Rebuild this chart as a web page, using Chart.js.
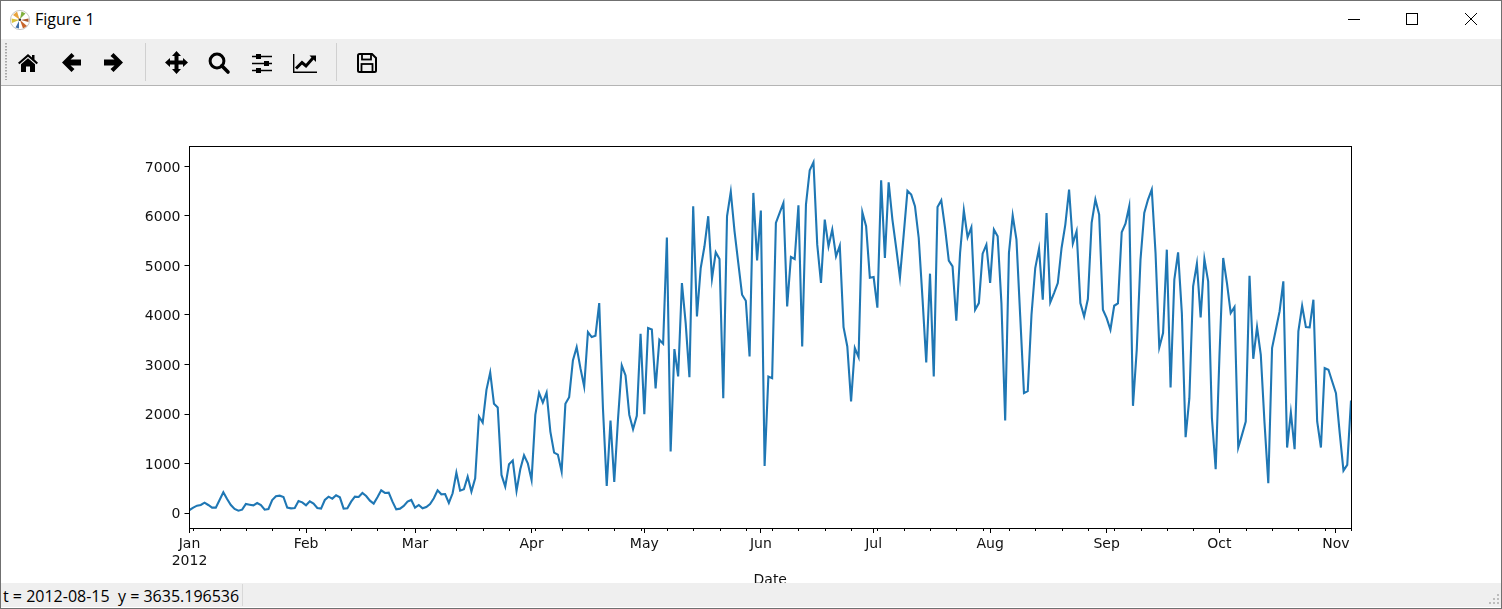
<!DOCTYPE html>
<html>
<head>
<meta charset="utf-8">
<title>Figure 1</title>
<script src="https://cdn.jsdelivr.net/npm/chart.js@4"></script>
<style>
    html, body { margin: 0; padding: 0; background: #fff; overflow: hidden; }
    #win { position: absolute; left: 0; top: 0; width: 1502px; height: 609px; overflow: hidden; font-family: "Open Sans", "Noto Sans", sans-serif; color: #000; }
    #chart { position: absolute; left: 0; top: 86px; }
    #titlebar { position: absolute; left: 35px; top: 8px; font-size: 16px; line-height: 22px; }
    #toolbar { position: absolute; left: 0; top: 39px; width: 1502px; height: 46px; background: #efefef; border-bottom: 1px solid #b4b4b4; }
    #status { position: absolute; left: 0; top: 583px; width: 1502px; height: 24px; background: #efefef; z-index: 2; }
    #status span { position: absolute; left: 3px; top: 1px; font-size: 16px; line-height: 24px; white-space: pre; }
    #frame { position: absolute; left: 0; top: 0; width: 1500px; height: 607px; border: 1px solid #707070; z-index: 3; pointer-events: none; }
    svg { position: absolute; overflow: visible; }
</style>
</head>
<body>
<div id="win">
    <canvas id="chart" width="1502" height="523"></canvas>

    <svg style="left:9px;top:9px" width="22" height="22" viewBox="0 0 22 22">
        <circle cx="11" cy="11" r="9.6" fill="#fff" stroke="#c4c4c4" stroke-width="1"/>
        <path d="M10.5 10.5 L4 6 L8 2.5 Z" fill="#e8a33d"/>
        <path d="M11 10 L12.5 2.5 L16.5 4.5 Z" fill="#7fae3c"/>
        <path d="M10 11 L2.5 9.5 L3 14 Z" fill="#d9c23a"/>
        <path d="M11 11 L18 17 L14 19.5 Z" fill="#c8642b"/>
        <path d="M10 12 L6.5 18.5 L10 19.5 Z" fill="#3f6fa8"/>
        <path d="M12 11 L19.5 9.5 L19.5 13 Z" fill="#a9572c"/>
        <circle cx="10.8" cy="10.8" r="1.3" fill="#333"/>
    </svg>
    <div id="titlebar">Figure 1</div>
    <svg style="left:1348px;top:19px" width="12" height="1"><rect width="12" height="1" fill="#000"/></svg>
    <svg style="left:1406px;top:13px" width="12" height="12"><rect x="0.5" y="0.5" width="11" height="11" fill="none" stroke="#000"/></svg>
    <svg style="left:1465px;top:13px" width="12" height="12"><path d="M0 0 L12 12 M12 0 L0 12" stroke="#000" stroke-width="1" fill="none"/></svg>

    <div id="toolbar">
        <svg style="left:5px;top:3px" width="3" height="38">
            <path d="M1 1 V38" stroke="#a8a8a8" stroke-width="2" stroke-dasharray="1.5 1.5"/>
        </svg>
        <!-- home -->
        <svg style="left:18px;top:15px" width="20" height="18" viewBox="0 0 20 18">
            <path d="M10 0 L14 3.4 V1 H16.5 V5.6 L20 8.8 L18.6 10.2 L10 2.8 L1.4 10.2 L0 8.8 Z" fill="#000"/>
            <path d="M3 10.2 L10 4.2 L17 10.2 V18 H12 V12.5 H8 V18 H3 Z" fill="#000"/>
        </svg>
        <!-- back -->
        <svg style="left:62px;top:14px" width="19" height="19" viewBox="0 0 19 19">
            <path d="M9.5 0 L12.5 3 L8.5 6.5 H19 V12.5 H8.5 L12.5 16 L9.5 19 L0 9.5 Z" fill="#000"/>
        </svg>
        <!-- forward -->
        <svg style="left:104px;top:14px" width="19" height="19" viewBox="0 0 19 19">
            <path d="M9.5 0 L6.5 3 L10.5 6.5 H0 V12.5 H10.5 L6.5 16 L9.5 19 L19 9.5 Z" fill="#000"/>
        </svg>
        <svg style="left:145px;top:4px" width="1" height="38"><rect width="1" height="38" fill="#d0d0d0"/></svg>
        <!-- move -->
        <svg style="left:165px;top:12px" width="23" height="23" viewBox="0 0 23 23">
            <path d="M11.5 0 L16 5 H13.5 V9.5 H18 V7 L23 11.5 L18 16 V13.5 H13.5 V18 H16 L11.5 23 L7 18 H9.5 V13.5 H5 V16 L0 11.5 L5 7 V9.5 H9.5 V5 H7 Z" fill="#000"/>
        </svg>
        <!-- zoom -->
        <svg style="left:208px;top:13px" width="22" height="22" viewBox="0 0 22 22">
            <circle cx="9" cy="9" r="6.9" fill="none" stroke="#000" stroke-width="3"/>
            <path d="M13.8 13.8 L20 20" stroke="#000" stroke-width="3.6" stroke-linecap="round"/>
        </svg>
        <!-- sliders -->
        <svg style="left:252px;top:15px" width="20" height="19" viewBox="0 0 20 19">
            <path d="M0 2.5 H20 M0 9.5 H20 M0 16.5 H20" stroke="#000" stroke-width="1.4"/>
            <rect x="4" y="0" width="5" height="5" fill="#000"/>
            <rect x="12" y="7" width="5" height="5" fill="#000"/>
            <rect x="4" y="14" width="5" height="5" fill="#000"/>
        </svg>
        <!-- line chart -->
        <svg style="left:293px;top:15px" width="24" height="19" viewBox="0 0 24 19">
            <path d="M0.7 0 V18.3 H24" fill="none" stroke="#000" stroke-width="1.4"/>
            <path d="M3 14.5 L9 8.5 L13 12 L20 4" fill="none" stroke="#000" stroke-width="3"/>
            <path d="M16.5 1.5 H23 V8 Z" fill="#000"/>
        </svg>
        <svg style="left:336px;top:4px" width="1" height="38"><rect width="1" height="38" fill="#d0d0d0"/></svg>
        <!-- save -->
        <svg style="left:357px;top:14px" width="20" height="20" viewBox="0 0 20 20">
            <path d="M1 2.5 Q1 1 2.5 1 H15 L19 5 V17.5 Q19 19 17.5 19 H2.5 Q1 19 1 17.5 Z" fill="none" stroke="#000" stroke-width="2"/>
            <rect x="5" y="1" width="9" height="5.5" fill="none" stroke="#000" stroke-width="1.8"/>
            <rect x="4.5" y="11" width="11" height="8" fill="none" stroke="#000" stroke-width="1.8"/>
        </svg>
    </div>

    <div id="status">
        <span>t = 2012-08-15  y = 3635.196536</span>
        <svg style="left:242px;top:1px" width="1" height="22"><rect width="1" height="22" fill="#d8d8d8"/></svg>
        <svg style="left:1488px;top:11px" width="11" height="11">
            <path d="M9 0h2v2h-2z M5 4h2v2h-2z M9 4h2v2h-2z M1 8h2v2h-2z M5 8h2v2h-2z M9 8h2v2h-2z" fill="#bdbdbd"/>
        </svg>
    </div>
    <div id="frame"></div>
</div>

<script>
// daily counts, Jan 1 to Nov 5 2012
const dailyValues = [
    60, 108, 148, 162, 209, 162, 108, 108, 263, 418,
    283, 162, 81, 47, 67, 182, 168, 155, 202, 162,
    67, 81, 263, 337, 350, 324, 108, 94, 101, 243,
    216, 155, 236, 189, 101, 88, 263, 330, 290, 357,
    317, 88, 94, 229, 330, 324, 405, 344, 249, 189,
    317, 458, 405, 411, 229, 74, 88, 142, 229, 263,
    108, 162, 94, 121, 182, 297, 458, 378, 384, 202,
    398, 816, 452, 479, 735, 432, 701, 1949, 1827, 2488,
    2839, 2205, 2131, 769, 533, 984, 1059, 445, 883, 1167,
    1005, 668, 1982, 2427, 2232, 2434, 1645, 1220, 1180, 836,
    2205, 2340, 3082, 3351, 2926, 2556, 3655, 3554, 3581, 4241,
    2100, 546, 1868, 627, 1900, 2980, 2778, 1982, 1692, 1962,
    3621, 1996, 3736, 3709, 2515, 3500, 3419, 5563, 1241, 3311,
    2758, 4646, 3837, 2744, 6197, 3972, 4949, 5388, 5995, 4734,
    5266, 5131, 2320, 5995, 6490, 5691, 5050, 4410, 4288, 3162,
    6466, 5104, 6109, 951, 2758, 2724, 5860, 6062, 6264, 4174,
    5172, 5131, 6217, 3365, 6231, 6925, 7087, 5421, 4646, 5927,
    5388, 5725, 5185, 5401, 3756, 3365, 2252, 3331, 3149, 6075,
    5792, 4754, 4767, 4147, 6723, 5152, 6682, 5927, 5354, 4760,
    5624, 6507, 6433, 6197, 5556, 4342, 3041, 4835, 2758, 6183,
    6318, 5758, 5098, 4983, 3884, 5253, 6116, 5570, 5772, 4107,
    4241, 5239, 5421, 4646, 5725, 5590, 4241, 1868, 5253, 6008,
    5522, 3972, 2421, 2461, 4005, 4949, 5340, 4309, 6062, 4255,
    4444, 4646, 5354, 5826, 6534, 5442, 5691, 4241, 3972, 4322,
    5860, 6332, 6028, 4107, 3938, 3702, 4187, 4235, 5671, 5846,
    6197, 2165, 3297, 5118, 6062, 6332, 6534, 5253, 3344, 3634,
    5320, 2535, 4713, 5266, 4039, 1531, 2320, 4579, 5037, 3951,
    5131, 4680, 1915, 883, 3162, 5152, 4646, 4039, 4160, 1322,
    1578, 1848, 4794, 3115, 3756, 3196, 1814, 600, 3331, 3702,
    4073, 4680, 1322, 2030, 1288, 3668, 4187, 3756, 3749, 4309,
    1848, 1322, 2926, 2893, 2657, 2421, 1612, 856, 971, 2272
];

// day offsets from Jan 1
const monthTicks = [0, 31, 60, 91, 121, 152, 182, 213, 244, 274, 305];
const monthLabels = [['Jan', '2012'], 'Feb', 'Mar', 'Apr', 'May', 'Jun', 'Jul', 'Aug', 'Sep', 'Oct', 'Nov'];
// Mondays
const weekTicks = [
    1, 8, 15, 22, 29, 36, 43, 50, 57, 64, 71, 78, 85, 92, 99, 106, 113, 120, 127, 134, 141, 148, 155,
    162, 169, 176, 183, 190, 197, 204, 211, 218, 225, 232, 239, 246, 253, 260, 267, 274, 281, 288, 295, 302, 309
];
const yTicks = [0, 1000, 2000, 3000, 4000, 5000, 6000, 7000];

const tickFont = { family: '"DejaVu Sans"', size: 14 };

// axes frame and the short weekly ticks
const framePlugin = {
    id: 'frame',
    afterDraw(chart) {
        const { ctx, chartArea: a, scales: { x } } = chart;
        ctx.save();
        ctx.strokeStyle = '#000';
        ctx.lineWidth = 1;
        ctx.strokeRect(Math.floor(a.left) + 0.5, Math.floor(a.top) + 0.5, Math.round(a.right - a.left), Math.round(a.bottom - a.top));
        ctx.beginPath();
        weekTicks.forEach((d) => {
            const px = Math.round(x.getPixelForValue(d)) + 0.5;
            ctx.moveTo(px, a.bottom);
            ctx.lineTo(px, a.bottom + 3);
        });
        ctx.stroke();
        ctx.restore();
    }
};

new Chart(document.getElementById('chart').getContext('2d'), {
    type: 'line',
    data: {
        datasets: [{
            data: dailyValues.map((v, i) => ({ x: i, y: v })),
            borderColor: '#1f77b4',
            borderWidth: 2.1,
            pointRadius: 0,
            tension: 0
        }]
    },
    plugins: [framePlugin],
    options: {
        responsive: false,
        animation: false,
        layout: { padding: { top: 60.5, right: 151 } },
        plugins: { legend: { display: false }, tooltip: { enabled: false } },
        scales: {
            x: {
                type: 'linear',
                min: 0,
                max: 309,
                afterBuildTicks: (scale) => { scale.ticks = monthTicks.map((v) => ({ value: v })); },
                afterFit: (scale) => { scale.height = 81; },
                border: { display: false },
                grid: { drawOnChartArea: false, tickLength: 5, tickColor: '#000', tickWidth: 1 },
                ticks: {
                    autoSkip: false,
                    maxRotation: 0,
                    minRotation: 0,
                    color: '#111',
                    font: { ...tickFont, lineHeight: 1.22 },
                    padding: 3,
                    callback: (value, index) => monthLabels[index]
                },
                title: {
                    display: true,
                    text: 'Date',
                    color: '#111',
                    font: tickFont,
                    padding: { top: 0, bottom: 20 }
                }
            },
            y: {
                min: -303,
                max: 7404,
                afterBuildTicks: (scale) => { scale.ticks = yTicks.map((v) => ({ value: v })); },
                afterFit: (scale) => { scale.width = 189.5; },
                border: { display: false },
                grid: { drawOnChartArea: false, tickLength: 5, tickColor: '#000', tickWidth: 1 },
                ticks: {
                    color: '#111',
                    font: tickFont,
                    padding: 4,
                    labelOffset: 1.5,
                    callback: (value) => String(value)
                }
            }
        }
    }
});
</script>
</body>
</html>
